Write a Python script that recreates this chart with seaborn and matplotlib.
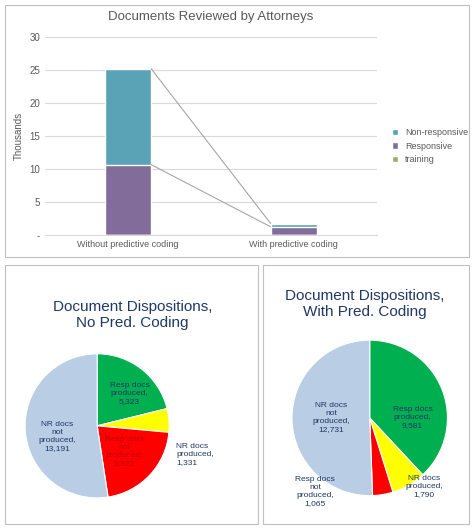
import matplotlib
matplotlib.use("Agg")
import matplotlib.pyplot as plt
import seaborn as sns
import numpy as np
import pandas as pd
from matplotlib.patches import Rectangle

sns.set_style("white")
plt.rcParams['font.family'] = ['Liberation Sans', 'DejaVu Sans']

categories = ["Without predictive coding", "With predictive coding"]
training = [0.1, 0.1]
responsive = [10.6, 1.2]
nonresponsive = [14.5, 0.5]

left_labels = ["Resp docs\nproduced,\n5,323", "NR docs\nproduced,\n1,331", "Resp docs\nnot\nproduced,\n5,323", "NR docs\nnot\nproduced,\n13,191"]
left_vals = [5323, 1331, 5323, 13191]
right_labels = ["Resp docs\nproduced,\n9,581", "NR docs\nproduced,\n1,790", "Resp docs\nnot\nproduced,\n1,065", "NR docs\nnot\nproduced,\n12,731"]
right_vals = [9581, 1790, 1065, 12731]
pie_colors = ["#00B050", "#FFFF00", "#FF0000", "#B9CDE5"]

fig = plt.figure(figsize=(4.74, 5.29), dpi=100)
for (x, y, w, h) in [(0.01, 0.515, 0.98, 0.475), (0.01, 0.01, 0.535, 0.49), (0.555, 0.01, 0.435, 0.49)]:
    fig.add_artist(Rectangle((x, y), w, h, transform=fig.transFigure, fill=False, ec="#BFBFBF", lw=0.8))

ax = fig.add_axes([0.095, 0.555, 0.70, 0.375])
df = pd.DataFrame({"cat": categories, "training": training, "responsive": responsive, "nonresponsive": nonresponsive})
b1 = np.array(training); b2 = b1 + np.array(responsive); b3 = b2 + np.array(nonresponsive)
w = 0.28
sns.barplot(data=df, x="cat", y=b3, color="#4BACC6", width=w, ax=ax, label="Non-responsive")
sns.barplot(data=df, x="cat", y=b2, color="#8064A2", width=w, ax=ax, label="Responsive")
sns.barplot(data=df, x="cat", y=b1, color="#9BBB59", width=w, ax=ax, label="training")
for top in [b1, b2, b3]:
    ax.plot([w / 2, 1 - w / 2], [top[0], top[1]], color="#A6A6A6", lw=0.8)
ax.set_xlim(-0.5, 1.5)
ax.set_ylim(0, 30)
ax.set_yticks(range(0, 31, 5))
ax.set_yticklabels(["-"] + [str(v) for v in range(5, 31, 5)], fontsize=7, color="#595959")
ax.tick_params(axis="x", labelsize=6.5, labelcolor="#595959", length=0)
ax.tick_params(axis="y", length=0)
ax.set_xlabel(""); ax.set_ylabel("Thousands", fontsize=7, color="#595959")
ax.yaxis.grid(True, color="#D9D9D9", lw=0.8)
sns.despine(ax=ax, left=True)
ax.spines["bottom"].set_color("#D9D9D9")
ax.set_title("Documents Reviewed by Attorneys", fontsize=9.5, color="#595959", pad=12)
h, l = ax.get_legend_handles_labels()
ax.legend(h, l, loc="center left", bbox_to_anchor=(1.02, 0.45), frameon=False, fontsize=6.5, handlelength=0.7, handleheight=0.7, labelcolor="#595959")

def pie(rect, vals):
    a = fig.add_axes(rect)
    a.pie(vals, colors=pie_colors, startangle=90, counterclock=False,
          wedgeprops=dict(edgecolor="white", linewidth=0.8))
    return a

fig.text(0.28, 0.405, "Document Dispositions,\nNo Pred. Coding", fontsize=11, color="#1F3864", ha="center", va="center")
fig.text(0.77, 0.425, "Document Dispositions,\nWith Pred. Coding", fontsize=11, color="#1F3864", ha="center", va="center")

a1 = pie([0.015, 0.015, 0.38, 0.36], left_vals)
tk = dict(fontsize=6, color="#1F3864", ha="center", va="center")
a1.text(0.45, 0.45, left_labels[0], **tk)
a1.text(1.1, -0.4, left_labels[1], ha="left", va="center", fontsize=6, color="#1F3864")
a1.text(0.38, -0.35, left_labels[2], fontsize=6, color="#C00000", ha="center", va="center")
a1.text(-0.55, -0.15, left_labels[3], **tk)

a2 = pie([0.575, 0.015, 0.41, 0.39], right_vals)
a2.text(0.55, 0.0, right_labels[0], **tk)
a2.text(0.7, -0.88, right_labels[1], **tk)
a2.text(-0.7, -0.95, right_labels[2], **tk)
a2.text(-0.5, 0.0, right_labels[3], **tk)

fig.savefig("out.png", dpi=100)
